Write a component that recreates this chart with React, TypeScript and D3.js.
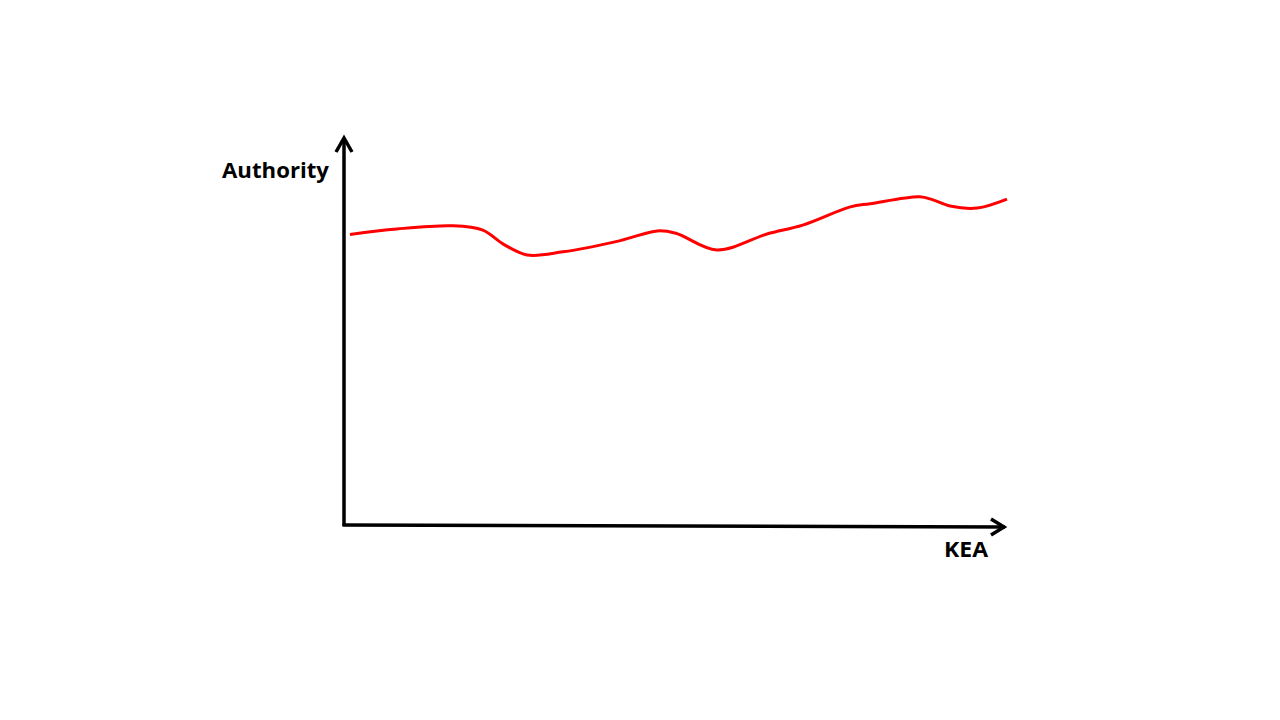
import React from "react";
import * as d3 from "d3";

const keaValues = [0.9, 8.0, 16.5, 21.0, 24.1, 27.7, 33.1, 41.8, 47.4, 50.2, 56.4, 64.0, 69.4, 76.6, 79.6, 87.1, 89.1, 91.7, 95.8, 100.3];
const authorityValues = [74.9, 76.3, 77.1, 76.0, 72.4, 69.6, 70.4, 73.3, 75.8, 75.2, 70.9, 75.0, 77.3, 82.0, 82.8, 84.6, 83.8, 82.2, 81.7, 84.0];
const xLabel = "KEA";
const yLabel = "Authority";

export default function App() {
  const W = 1280, H = 720;
  const x0 = 344, x1 = 1005, y0 = 525, y1 = 137;
  const x = d3.scaleLinear().domain([0, 100]).range([x0, x1]);
  const y = d3.scaleLinear().domain([0, 100]).range([y0, y1]);
  const pts: [number, number][] = keaValues.map((k, i) => [k, authorityValues[i]]);
  const line = d3.line<[number, number]>().x(d => x(d[0])).y(d => y(d[1])).curve(d3.curveCatmullRom.alpha(0.5));
  const font = "'Open Sans', Lato, sans-serif";
  return (
    <svg width={W} height={H} style={{ position: "absolute", left: 0, top: 0, background: "#fff" }}>
      <line x1={x0} y1={y0 + 1} x2={x0} y2={y1 + 1} stroke="#000" strokeWidth={3.5} />
      <polyline points={`${x0 - 8},${y1 + 15} ${x0},${y1 + 1} ${x0 + 8},${y1 + 15}`} fill="none" stroke="#000" strokeWidth={3.5} strokeLinejoin="miter" />
      <line x1={x0 - 1.5} y1={y0} x2={x1} y2={y0 + 2} stroke="#000" strokeWidth={3.5} />
      <polyline points={`${x1 - 14},${y0 - 6} ${x1 - 1},${y0 + 2} ${x1 - 14},${y0 + 10}`} fill="none" stroke="#000" strokeWidth={3.5} />
      <path d={line(pts) || ""} fill="none" stroke="#ff0000" strokeWidth={3} />
      <text x={222} y={178} fontFamily={font} fontWeight="bold" fontSize={21} textLength={107} lengthAdjust="spacingAndGlyphs">{yLabel}</text>
      <text x={944} y={557} fontFamily={font} fontWeight="bold" fontSize={21} textLength={44} lengthAdjust="spacingAndGlyphs">{xLabel}</text>
    </svg>
  );
}
